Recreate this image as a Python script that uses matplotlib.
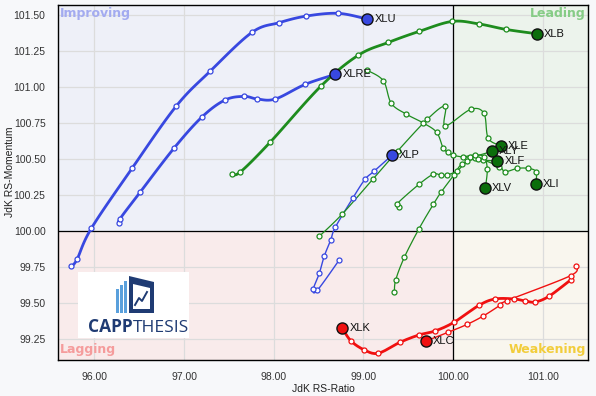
"""
Relative Rotation Graph of the sector ETFs (JdK RS-Ratio vs RS-Momentum)
"""
import numpy as np
import matplotlib
matplotlib.use('Agg')
import matplotlib.pyplot as plt
from matplotlib.patches import Rectangle, Polygon

plt.rcParams['font.family'] = ['Liberation Sans', 'DejaVu Sans']

# Tail data, oldest point first, head (latest) last
xlu_x = [95.744, 95.807, 95.967, 96.42, 96.911, 97.293, 97.758, 98.059, 98.363, 98.72, 99.044]
xlu_y = [99.755, 99.803, 100.019, 100.435, 100.866, 101.111, 101.38, 101.447, 101.493, 101.512, 101.472]

xlre_x = [96.279, 96.287, 96.51, 96.889, 97.20, 97.457, 97.672, 97.817, 98.018, 98.352, 98.687]
xlre_y = [100.053, 100.085, 100.269, 100.576, 100.792, 100.91, 100.935, 100.917, 100.917, 101.019, 101.088]

xlp_x = [98.731, 98.486, 98.441, 98.508, 98.564, 98.635, 98.687, 98.884, 99.018, 99.118, 99.322]
xlp_y = [99.799, 99.588, 99.595, 99.706, 99.826, 99.937, 100.026, 100.231, 100.359, 100.415, 100.528]

xlb_x = [97.535, 97.628, 97.959, 98.524, 98.94, 99.278, 99.623, 99.991, 100.292, 100.593, 100.935]
xlb_y = [100.396, 100.41, 100.616, 101.005, 101.22, 101.31, 101.387, 101.456, 101.438, 101.40, 101.37]

xle_x = [98.508, 98.761, 99.104, 99.382, 99.712, 99.91, 99.913, 100.196, 100.344, 100.392, 100.537]
xle_y = [99.963, 100.116, 100.359, 100.556, 100.776, 100.866, 100.731, 100.845, 100.817, 100.644, 100.593]

xly_x = [99.044, 99.222, 99.311, 99.478, 99.668, 99.817, 99.891, 99.946, 100.002, 100.188, 100.434]
xly_y = [101.116, 101.044, 100.887, 100.812, 100.75, 100.685, 100.574, 100.547, 100.526, 100.514, 100.553]

xlf_x = [99.40, 99.378, 99.623, 99.779, 99.862, 99.929, 100.047, 100.152, 100.244, 100.333, 100.493]
xlf_y = [100.165, 100.19, 100.326, 100.394, 100.389, 100.389, 100.419, 100.484, 100.507, 100.493, 100.486]

xli_x = [99.345, 99.36, 99.456, 99.62, 99.779, 99.865, 100.01, 100.096, 100.278, 100.515, 100.579, 100.716, 100.838, 100.924, 100.924]
xli_y = [99.574, 99.66, 99.817, 100.016, 100.185, 100.269, 100.389, 100.463, 100.5, 100.447, 100.412, 100.435, 100.435, 100.412, 100.329]

xlv_x = [100.111, 100.245, 100.345, 100.381, 100.359]
xlv_y = [100.514, 100.528, 100.514, 100.428, 100.297]

xlk_x = [101.31, 101.07, 100.916, 100.805, 100.68, 100.47, 100.289, 100.01, 99.80, 99.62, 99.408, 99.166, 99.01, 98.862, 98.765]
xlk_y = [99.66, 99.547, 99.507, 99.514, 99.528, 99.528, 99.484, 99.366, 99.306, 99.278, 99.227, 99.151, 99.174, 99.236, 99.324]

xlc_x = [101.37, 101.31, 100.6, 100.523, 100.337, 100.158, 99.946, 99.698]
xlc_y = [99.755, 99.69, 99.516, 99.484, 99.41, 99.352, 99.297, 99.236]

BLUE = '#3848e0'
GREEN = '#1e8c1e'
GREEN_HEAD = '#0b6e0b'
RED = '#f01010'

# (name, x, y, line colour, head colour, line width)
tails = [
    ('XLU', xlu_x, xlu_y, BLUE, BLUE, 2.0),
    ('XLRE', xlre_x, xlre_y, BLUE, BLUE, 2.0),
    ('XLP', xlp_x, xlp_y, BLUE, BLUE, 1.0),
    ('XLB', xlb_x, xlb_y, GREEN, GREEN_HEAD, 2.0),
    ('XLE', xle_x, xle_y, GREEN, GREEN_HEAD, 0.9),
    ('XLY', xly_x, xly_y, GREEN, GREEN_HEAD, 0.9),
    ('XLF', xlf_x, xlf_y, GREEN, GREEN_HEAD, 0.9),
    ('XLI', xli_x, xli_y, GREEN, GREEN_HEAD, 0.9),
    ('XLV', xlv_x, xlv_y, GREEN, GREEN_HEAD, 0.9),
    ('XLK', xlk_x, xlk_y, RED, RED, 2.0),
    ('XLC', xlc_x, xlc_y, RED, RED, 1.0),
]

x_ticks = [96, 97, 98, 99, 100, 101]
y_ticks = [99.25, 99.5, 99.75, 100.0, 100.25, 100.5, 100.75, 101.0, 101.25, 101.5]


def smooth(xs, ys, n=12):
    # Catmull-Rom curve through the tail points (drawing only)
    p = np.column_stack([xs, ys])
    p = np.vstack([p[0], p, p[-1]])
    out = []
    for i in range(1, len(p) - 2):
        p0, p1, p2, p3 = p[i - 1], p[i], p[i + 1], p[i + 2]
        t = np.linspace(0, 1, n, endpoint=False)[:, None]
        seg = 0.5 * ((2 * p1) + (-p0 + p2) * t + (2 * p0 - 5 * p1 + 4 * p2 - p3) * t ** 2
                     + (-p0 + 3 * p1 - 3 * p2 + p3) * t ** 3)
        out.append(seg)
    out.append(p[-2][None, :])
    out = np.vstack(out)
    return out[:, 0], out[:, 1]


fig = plt.figure(figsize=(5.96, 3.96), dpi=100, facecolor='#f7f8fa')
ax = fig.add_axes([58 / 596, 1 - 360 / 396, 530 / 596, 355 / 396])
x0, x1 = 95.595, 101.504
y0, y1 = 99.104, 101.57
ax.set_xlim(x0, x1)
ax.set_ylim(y0, y1)

# Quadrant backgrounds
ax.add_patch(Rectangle((x0, 100), 100 - x0, y1 - 100, facecolor='#eef0f8', edgecolor='none', zorder=0))
ax.add_patch(Rectangle((100, 100), x1 - 100, y1 - 100, facecolor='#ecf3ec', edgecolor='none', zorder=0))
ax.add_patch(Rectangle((x0, y0), 100 - x0, 100 - y0, facecolor='#f9ebeb', edgecolor='none', zorder=0))
ax.add_patch(Rectangle((100, y0), x1 - 100, 100 - y0, facecolor='#f9f6ee', edgecolor='none', zorder=0))

ax.set_xticks(x_ticks)
ax.set_yticks(y_ticks)
ax.xaxis.set_major_formatter(plt.FormatStrFormatter('%.2f'))
ax.yaxis.set_major_formatter(plt.FormatStrFormatter('%.2f'))
ax.tick_params(length=0, labelsize=7.5, colors='#333333', pad=9)
ax.grid(True, color='#dcdcdc', linewidth=0.9, zorder=1)
ax.set_axisbelow(True)
ax.axvline(100, color='black', linewidth=0.9, zorder=2)
ax.axhline(100, color='black', linewidth=0.9, zorder=2)
for s in ax.spines.values():
    s.set_linewidth(1.0)
    s.set_color('black')

ax.set_xlabel('JdK RS-Ratio', fontsize=7.5, color='#222222', labelpad=1)
ax.set_ylabel('JdK RS-Momentum', fontsize=7.5, color='#222222')
ax.yaxis.set_label_coords(-0.082, 0.53)

# Quadrant names
qfont = dict(fontsize=9, fontweight='bold', family='DejaVu Sans', zorder=3)
ax.text(0.004, 0.995, 'Improving', transform=ax.transAxes, ha='left', va='top',
        color='#a3abf0', **qfont)
ax.text(0.996, 0.995, 'Leading', transform=ax.transAxes, ha='right', va='top',
        color='#86cc86', **qfont)
ax.text(0.004, 0.012, 'Lagging', transform=ax.transAxes, ha='left', va='bottom',
        color='#f59c9c', **qfont)
ax.text(0.996, 0.012, 'Weakening', transform=ax.transAxes, ha='right', va='bottom',
        color='#f2cd3c', **qfont)

# Tails
for name, xs, ys, col, head_col, lw in tails:
    sx, sy = smooth(xs, ys)
    ax.plot(sx, sy, color=col, linewidth=lw, zorder=4, solid_capstyle='round')
    ax.plot(xs[:-1], ys[:-1], linestyle='none', marker='o', markersize=3.6,
            markerfacecolor='white', markeredgecolor=col, markeredgewidth=0.9, zorder=5)
    ax.plot(xs[-1], ys[-1], linestyle='none', marker='o', markersize=8,
            markerfacecolor=head_col, markeredgecolor='#111111', markeredgewidth=1.0, zorder=6)
    ax.annotate(name, (xs[-1], ys[-1]), xytext=(5, 0), textcoords='offset points',
                ha='left', va='center', fontsize=8, color='#111111', zorder=7)

# CAPPTHESIS logo
logo = fig.add_axes([78 / 596, 1 - 338 / 396, 111 / 596, 66 / 396])
logo.set_xlim(0, 111)
logo.set_ylim(66, 0)
logo.axis('off')
logo.add_patch(Rectangle((0, 0), 111, 66, facecolor='white', edgecolor='none'))
for bx, bh in [(37.5, 24), (41.5, 28), (45.5, 32)]:
    logo.add_patch(Rectangle((bx, 41 - bh), 3.5, bh, facecolor='#5aa0dc', edgecolor='none'))
logo.add_patch(Polygon([[51, 4], [76, 10], [76, 41], [51, 41]], closed=True,
                       facecolor='#1f3b73', edgecolor='none'))
logo.add_patch(Polygon([[55, 12], [72, 16], [72, 37], [55, 37]], closed=True,
                       facecolor='white', edgecolor='none'))
logo.plot([57, 61, 64, 69], [33, 26, 29, 20], color='#1f3b73', linewidth=1.4)
logo.text(55, 55.5, 'CAPP', ha='right', va='center', fontsize=12.5, fontweight='bold',
          family='Open Sans', color='#1f3b73')
logo.text(55, 55.5, 'THESIS', ha='left', va='center', fontsize=12.5,
          family='Open Sans', color='#1f3b73')

plt.savefig('out.png', dpi=100, facecolor=fig.get_facecolor())
plt.close()
